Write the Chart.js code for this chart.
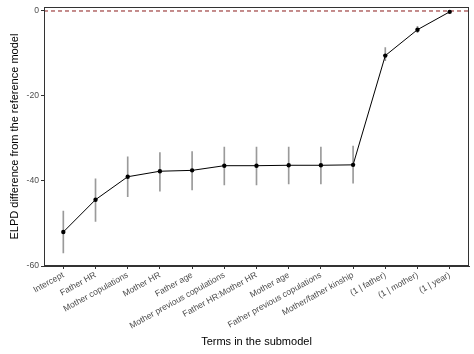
<!DOCTYPE html>
<html>
<head>
<meta charset="utf-8">
<script src="https://cdn.jsdelivr.net/npm/chart.js@4"></script>
<style>
  body { margin: 0; background: #fff; }
  canvas { display: block; }
</style>
</head>
<body>
<canvas id="elpdChart" width="474" height="354"></canvas>
<script>
// ---------------- DATA ----------------
const terms = [
  "Intercept", "Father HR", "Mother copulations", "Mother HR", "Father age",
  "Mother previous copulations", "Father HR:Mother HR", "Mother age",
  "Father previous copulations", "Mother/father kinship",
  "(1 | father)", "(1 | mother)", "(1 | year)"
];
const elpdDiff = [-52.0, -44.4, -39.0, -37.7, -37.5, -36.4, -36.4, -36.3, -36.3, -36.2, -10.5, -4.4, -0.2];
const lowerSe = [-56.9, -49.5, -43.7, -42.4, -42.1, -40.9, -40.9, -40.7, -40.7, -40.5, -11.7, -5.1, -0.4];
const upperSe = [-47.1, -39.5, -34.3, -33.3, -33.1, -32.0, -32.0, -32.0, -32.0, -31.8, -8.6, -3.6, 0.0];
const yTicks = [-60, -40, -20, 0];

const fontFamily = "'Liberation Sans', Arial, Helvetica, sans-serif";

// frame round the panel + dashed reference line at 0
const panelPlugin = {
  id: "panel",
  beforeDatasetsDraw(chart) {
    const { ctx, chartArea: a, scales } = chart;
    const y0 = scales.y.getPixelForValue(0);
    ctx.save();
    ctx.strokeStyle = "#8b1a1a";
    ctx.lineWidth = 1;
    ctx.setLineDash([4, 3]);
    ctx.beginPath();
    ctx.moveTo(a.left, y0);
    ctx.lineTo(a.right, y0);
    ctx.stroke();
    ctx.restore();
  },
  afterDraw(chart) {
    const { ctx, chartArea: a } = chart;
    ctx.save();
    ctx.strokeStyle = "#333";
    ctx.lineWidth = 1;
    ctx.strokeRect(Math.round(a.left) + 0.5, Math.round(a.top) + 0.5,
      Math.round(a.right - a.left) - 1, Math.round(a.bottom - a.top) - 1);
    ctx.restore();
  }
};

new Chart(document.getElementById("elpdChart"), {
  data: {
    datasets: [
      {
        type: "line",
        order: 0,
        data: elpdDiff.map((v, i) => ({ x: i, y: v })),
        borderColor: "#000",
        borderWidth: 1,
        pointRadius: 2.2,
        pointBackgroundColor: "#000",
        pointBorderWidth: 0,
        tension: 0
      },
      {
        type: "bar",
        order: 1,
        data: lowerSe.map((lo, i) => ({ x: i, y: [lo, upperSe[i]] })),
        backgroundColor: "#9a9a9a",
        barThickness: 1,
        borderWidth: 0
      }
    ]
  },
  options: {
    responsive: false,
    animation: false,
    layout: { padding: { top: 6, right: 5, left: 0, bottom: 0 } },
    plugins: { legend: { display: false }, tooltip: { enabled: false } },
    scales: {
      x: {
        type: "linear",
        min: -0.6,
        max: 12.6,
        offset: false,
        afterBuildTicks: s => { s.ticks = terms.map((t, i) => ({ value: i })); },
        afterFit: s => { s.height = 88; },
        ticks: {
          autoSkip: false,
          minRotation: 29,
          maxRotation: 29,
          padding: 1,
          color: "#4d4d4d",
          font: { family: fontFamily, size: 8.6 },
          callback: v => terms[v]
        },
        grid: { offset: false, drawOnChartArea: false, tickLength: 3, color: "#333" },
        border: { color: "#333" },
        title: {
          display: true,
          text: "Terms in the submodel",
          color: "#000",
          font: { family: fontFamily, size: 11 },
          padding: { top: 2, bottom: 5 }
        }
      },
      y: {
        min: -60,
        max: 0.9,
        afterBuildTicks: s => { s.ticks = yTicks.map(v => ({ value: v })); },
        afterFit: s => { s.width = 44; },
        ticks: {
          padding: 2,
          color: "#4d4d4d",
          font: { family: fontFamily, size: 8.6 },
          callback: v => String(v)
        },
        grid: { drawOnChartArea: false, tickLength: 3, color: "#333" },
        border: { color: "#333" },
        title: {
          display: true,
          text: "ELPD difference from the reference model",
          color: "#000",
          font: { family: fontFamily, size: 11 },
          padding: { top: 8, bottom: 0 }
        }
      }
    }
  },
  plugins: [panelPlugin]
});
</script>
</body>
</html>
